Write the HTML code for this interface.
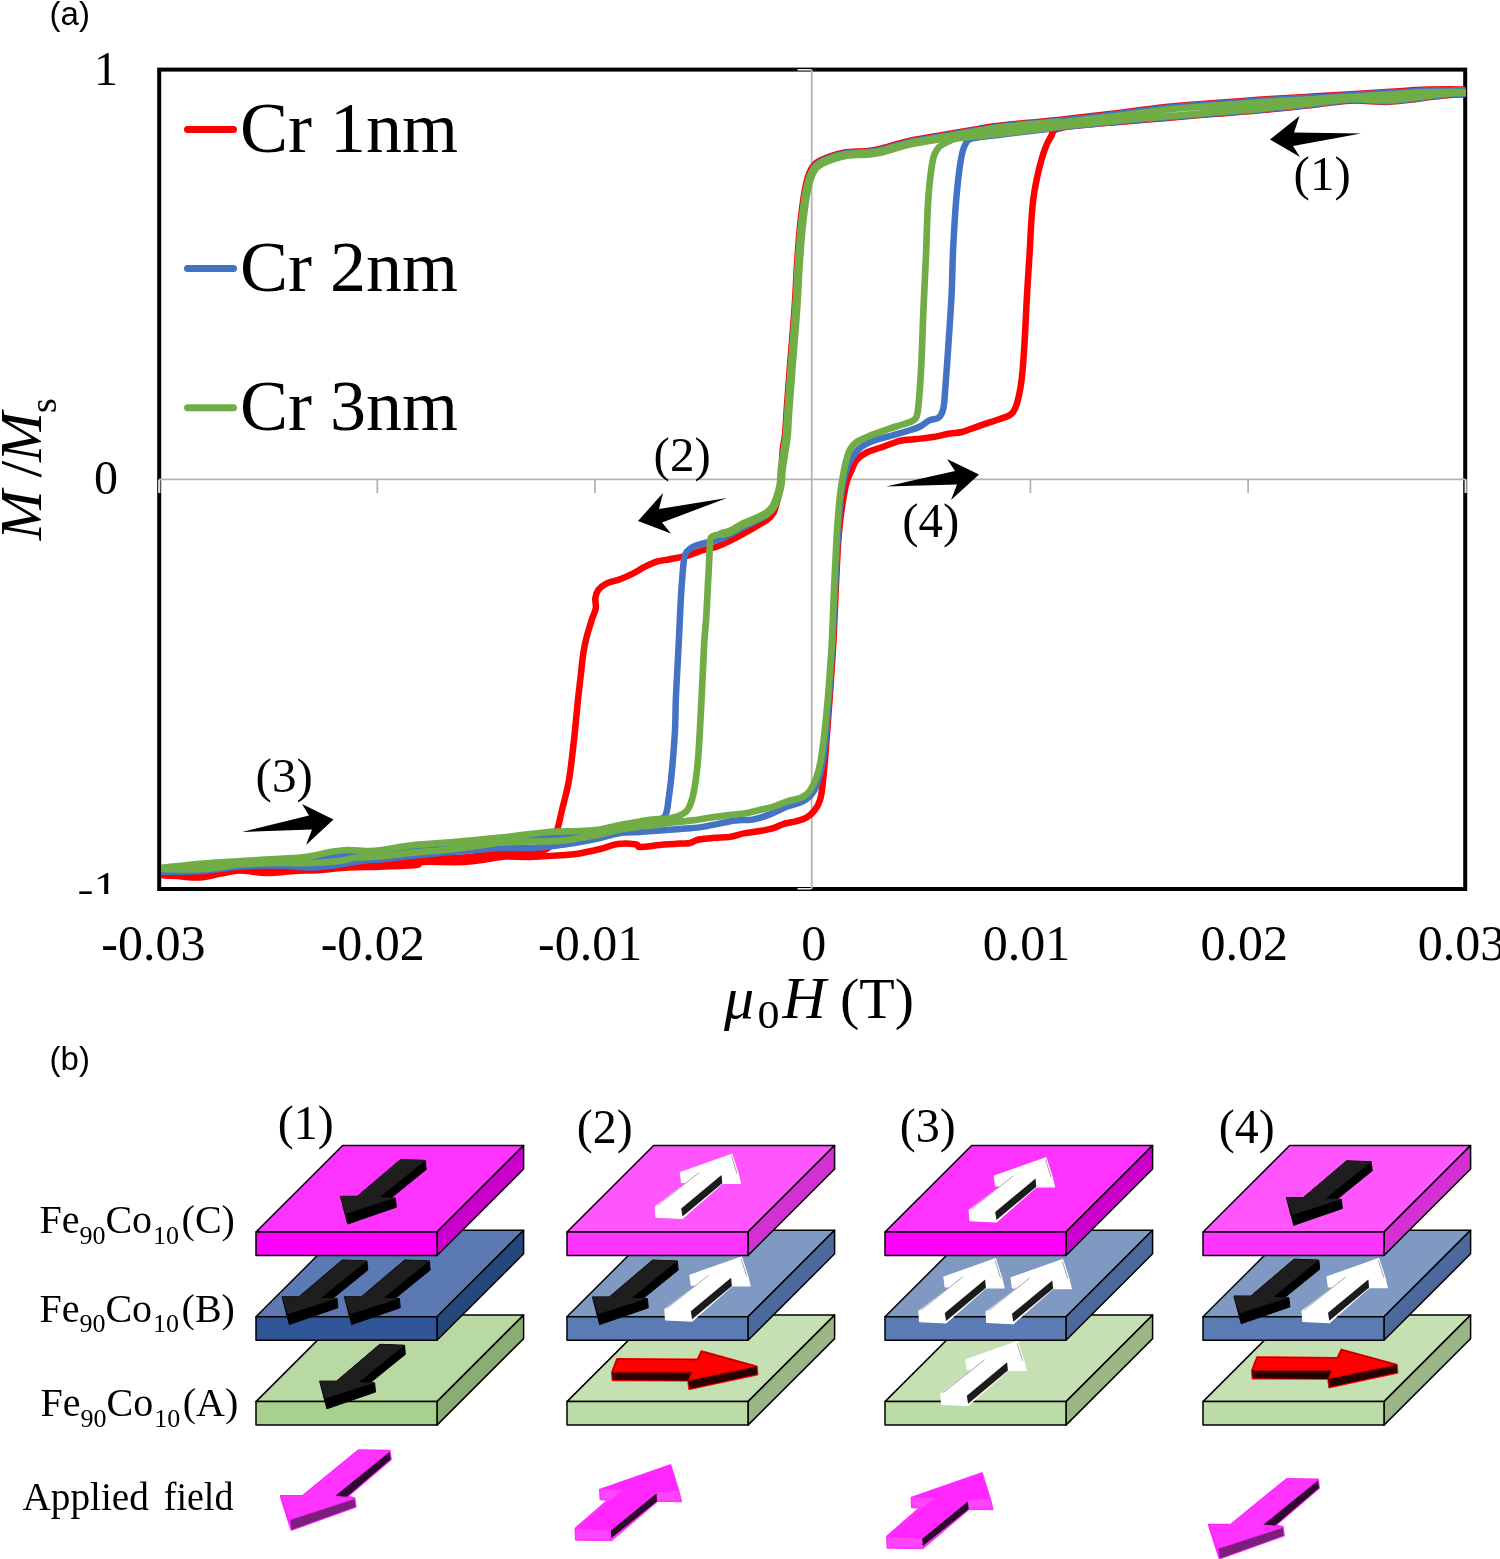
<!DOCTYPE html>
<html><head><meta charset="utf-8"><title>Figure</title>
<style>html,body{margin:0;padding:0;background:#fff}svg{display:block}text{font-family:"Liberation Serif", serif;fill:#000}.sans{font-family:"Liberation Sans", sans-serif}.it{font-style:italic}</style>
</head><body>
<svg width="1500" height="1559" viewBox="0 0 1500 1559">
<rect width="1500" height="1559" fill="#fff"/>
<text class="sans" x="49.6" y="25.4" font-size="33">(a)</text>
<text class="sans" x="49.6" y="1070" font-size="33">(b)</text>
<rect x="159.2" y="69.6" width="1306" height="819.4" fill="none" stroke="#000" stroke-width="4"/>
<g stroke="#b4b4b4" stroke-width="1.8" fill="none">
<path d="M159.2 479.3H1465.2"/>
<path d="M811.7 69.6V889.0"/>
<path d="M159.6 479V493"/>
<path d="M377.3 479V493"/>
<path d="M595 479V493"/>
<path d="M1030.4 479V493"/>
<path d="M1248.1 479V493"/>
<path d="M1465.8 479V493"/>
</g>
<clipPath id="cc"><rect x="161" y="60" width="1306.4" height="835"/></clipPath>
<g fill="none" stroke-linejoin="round" stroke-linecap="butt" clip-path="url(#cc)">
<path stroke="#ff0000" stroke-width="6.5" d="M1464.4 89.4C1458.4 89.4 1441.4 89.2 1428.4 89.6C1415.4 90 1399.2 91.2 1386.4 92C1373.6 92.8 1364.9 93.4 1351.4 94.2C1337.9 95 1320.9 96 1305.4 96.9C1289.9 97.8 1274.1 98.8 1258.4 99.8C1242.7 100.9 1226.9 102 1211.4 103.2C1195.9 104.4 1180.1 105.4 1165.4 106.9C1150.7 108.4 1141.2 110.2 1123.4 112.4C1105.6 114.6 1078.9 117.7 1058.4 119.9C1037.9 122.1 1013.7 123.9 1000.4 125.4C987.1 126.9 988.2 127.3 978.4 128.9C968.6 130.5 952.9 133.2 941.4 135.2C929.9 137.2 919.6 138.6 909.1 140.9C898.6 143.2 886.1 147.5 878.7 149.2C871.2 150.9 870.2 150.6 864.4 151.2C858.6 151.8 851 151.1 843.7 152.6C836.4 154.1 825.8 157.6 820.4 160.4C815 163.2 813.6 164.8 811.1 169.4C808.6 174 806.9 179.5 805.2 188.1C803.4 196.7 801.9 209.2 800.6 220.7C799.3 232.2 798.5 243.2 797.5 257.4C796.5 271.6 795.9 287.9 794.7 305.7C793.5 323.5 791.5 346.6 790.1 364.1C788.8 381.6 787.4 399 786.6 410.7C785.8 422.4 785.8 427.4 785.1 434.1C784.4 440.8 783.2 444.4 782.6 450.7C782 457 781.9 466.1 781.5 472C781.1 477.9 781.2 481.3 780.5 486C779.8 490.7 778.7 495.4 777.5 500C776.3 504.6 775.1 510 773.3 513.3C771.5 516.6 770.6 517.2 766.7 520C762.8 522.8 755.6 526.8 750 530C744.4 533.2 738.8 536.4 733.3 539.2C727.8 542 721.7 544.9 716.7 546.7C711.7 548.5 708.3 548.5 703.3 550C698.3 551.5 692.2 554.3 686.7 555.8C681.2 557.3 675 558.2 670 559.2C665 560.2 660.9 560.5 656.7 561.7C652.5 563 648.9 564.8 645 566.7C641.1 568.6 637.5 571.2 633.3 573.3C629.1 575.4 624.4 577.5 620 579.2C615.6 580.9 610.3 581.5 606.7 583.3C603.1 585.1 600.2 587.5 598.3 590C596.4 592.5 595.7 595.2 595.3 598.3C594.9 601.3 596.4 604.7 595.8 608.3C595.2 611.9 593.2 615.3 591.7 620C590.2 624.7 588.1 631.2 586.7 636.7C585.3 642.2 584.3 646.9 583.3 653.3C582.3 659.7 581.6 667.8 580.8 675C580 682.2 579.1 689.2 578.3 696.7C577.5 704.2 576.7 712.8 576 720C575.3 727.2 575.2 730 574 740C572.8 750 571 768.3 569 780C567 791.7 564 801.7 562 810C560 818.3 559.3 823.7 557 830C554.7 836.3 552.5 844.2 548 848C543.5 851.8 537 851.8 530 852.5C523 853.2 513 851.7 506 852C499 852.3 495 853.6 488 854.5C481 855.4 475 857 464 857.5C453 858 430 857 422 857.5C414 858 423 859.7 416 860.5C409 861.3 391.3 861.8 380 862.2C368.7 862.6 357.8 862.5 348 863C338.2 863.5 330 864.9 321 865.5C312 866.1 303 866 294 866.5C285 867 276 868.6 267 868.5C258 868.4 247.5 866.1 240 866.1C232.5 866.1 228.7 867.6 222 868.8C215.3 869.9 207.5 872.5 200 873C192.5 873.5 183.5 871.9 177 871.5C170.5 871.1 163.7 869.9 161 870.5C158.3 871.1 158.3 874.1 161 875C163.7 875.9 170.5 875.6 177 876C183.5 876.4 192.5 878 200 877.5C207.5 877 215.3 874.4 222 873.3C228.7 872.1 232.5 870.6 240 870.6C247.5 870.6 258 872.9 267 873C276 873.1 285 871.5 294 871C303 870.5 312 870.6 321 870C330 869.4 338.2 868 348 867.5C357.8 867 368.7 867.1 380 866.7C391.3 866.3 409 865.8 416 865C423 864.2 414 862.5 422 862C430 861.5 453 862.5 464 862C475 861.5 481 859.9 488 859C495 858.1 499 856.8 506 856.5C513 856.2 521 857.2 530 857C539 856.8 552.3 855.8 560 855.3C567.7 854.8 569.3 855 576 854C582.7 853 593 850.7 600 849C607 847.3 612 844.8 618 844C624 843.2 632.3 843.9 636 844.4C639.7 844.9 636 846.9 640 847C644 847.1 653.3 845.6 660 845C666.7 844.4 675 843.9 680 843.6C685 843.3 686.9 843.7 690 843C693.1 842.3 694.8 840.4 698.9 839.5C703 838.6 709.2 838.2 714.4 837.8C719.6 837.4 725.1 837.6 730 836.9C734.9 836.2 738.7 834.4 743.9 833.4C749.1 832.4 756.3 831.7 761.2 830.8C766.1 829.9 769.5 829.4 773.3 828.2C777 827.1 780 825 783.7 823.9C787.5 822.8 792 822.3 795.8 821.3C799.5 820.3 803 819.7 806.2 817.8C809.4 815.9 812.6 813 814.9 810C817.2 807 818.8 803.7 820.1 799.7C821.4 795.7 821.7 792.4 822.5 785.8C823.3 779.1 824 771.3 825 759.8C826 748.3 827.3 729.6 828.3 716.6C829.3 703.6 829.9 694.7 830.8 681.9C831.7 669.1 832.2 664.2 833.5 640C834.8 615.8 836.6 562.2 838.6 536.7C840.6 511.2 843.3 497.8 845.5 486.7C847.7 475.6 849.8 474.4 851.7 470C853.6 465.6 854.2 462.9 856.7 460C859.2 457.1 862.3 454.7 866.7 452.5C871.1 450.3 877.8 448.6 883.3 446.7C888.8 444.8 894.4 442.1 900 440.8C905.6 439.5 911.2 439.6 916.7 439C922.2 438.4 927.8 437.9 933.3 437C938.8 436.1 945.2 434.3 950 433.5C954.8 432.7 956.9 433.4 962 432C967.1 430.6 974.5 427.4 980.7 425.3C986.9 423.2 994.2 421 999.3 419.2C1004.3 417.4 1008.1 416.8 1011 414.3C1013.9 411.8 1015 409.6 1016.8 404C1018.5 398.4 1020.2 390.8 1021.5 380.7C1022.8 370.6 1023.6 357.3 1024.5 343.3C1025.4 329.3 1026.1 311.4 1026.9 296.7C1027.7 282 1028.5 271.1 1029.5 255C1030.5 238.9 1031.2 215.8 1033.2 200C1035.2 184.2 1038.4 170.8 1041.3 160.3C1044.2 149.8 1047.2 142.4 1050.7 137C1054.2 131.6 1049.9 130.3 1062.3 127.7C1074.7 125.1 1107.5 123.1 1125 121.5C1142.5 119.9 1152.3 119.2 1167 117.9C1181.7 116.7 1197.5 115.3 1213 114C1228.5 112.7 1244.3 111.7 1260 110.3C1275.7 108.9 1292 107.1 1307 105.5C1322 103.9 1336.8 101.3 1350 100.7C1363.2 100.1 1376 102.1 1386 101.9C1396 101.7 1402.7 100.5 1410 99.7C1417.3 98.9 1423.3 97.9 1430 97.1C1436.7 96.3 1444 95.4 1450 94.9C1456 94.4 1463.3 94.2 1466 94.1"/>
<path stroke="#4472c4" stroke-width="6.5" d="M1465.5 90.2C1459.5 90.2 1442.5 90 1429.5 90.4C1416.5 90.8 1400.3 92 1387.5 92.8C1374.7 93.6 1366 94.2 1352.5 95C1339 95.8 1322 96.8 1306.5 97.7C1291 98.6 1275.2 99.6 1259.5 100.6C1243.8 101.7 1228 102.8 1212.5 104C1197 105.2 1181.2 106.2 1166.5 107.7C1151.8 109.2 1142.3 111 1124.5 113.2C1106.7 115.4 1080 118.5 1059.5 120.7C1039 122.9 1014.8 124.7 1001.5 126.2C988.2 127.7 989.3 128.1 979.5 129.7C969.7 131.3 954 134 942.5 136C931 138 920.7 139.4 910.2 141.7C899.8 144 887.2 148.3 879.8 150C872.3 151.7 871.3 151.4 865.5 152C859.7 152.6 852.1 151.9 844.8 153.4C837.5 154.9 826.9 158.4 821.5 161.2C816.1 164 814.7 165.6 812.2 170.2C809.7 174.8 808 180.3 806.3 188.9C804.5 197.4 803 209.9 801.7 221.5C800.4 233.1 799.6 244 798.6 258.2C797.6 272.4 797 288.7 795.8 306.5C794.6 324.3 792.6 347.4 791.2 364.9C789.9 382.4 788.5 399.8 787.7 411.5C786.9 423.2 786.9 428.2 786.2 434.9C785.5 441.6 784.5 445.6 783.7 451.5C783 457.4 782.2 464.7 781.7 470C781.2 475.3 781.5 478.7 780.8 483.3C780.1 487.9 778.8 493.4 777.5 497.5C776.2 501.6 775.1 505.1 773.3 508C771.5 510.9 769.8 512.8 766.7 515C763.7 517.2 759.2 519.3 755 521.5C750.8 523.7 745.9 525.8 741.7 528C737.5 530.2 733.6 532.6 730 534.5C726.4 536.4 724.5 537.7 720 539.2C715.5 540.7 707.8 542 703.3 543.3C698.8 544.5 696.1 545.3 693.3 546.7C690.5 548.1 688.2 549.8 686.7 551.7C685.2 553.6 684.9 554.4 684.2 558.3C683.5 562.2 683.1 568 682.5 575C681.9 582 681.3 590.3 680.8 600C680.2 609.7 679.8 622.2 679.2 633.3C678.7 644.4 678.1 655.6 677.5 666.7C676.9 677.8 676.2 689.5 675.8 700C675.4 710.5 675.6 718.3 675 730C674.4 741.7 673 759 672 770C671 781 670.2 788.3 669 796C667.8 803.7 667.8 811.8 665 816C662.2 820.2 656.2 819.4 652 821C647.8 822.6 645.3 824.2 640 825.5C634.7 826.8 626.7 827.7 620 829C613.3 830.3 606.7 832.5 600 833.5C593.3 834.5 587.7 834.6 580 835C572.3 835.4 562.3 835.2 554 835.7C545.7 836.2 539 837.1 530 838.1C521 839.1 510 840.6 500 841.7C490 842.8 480 843.8 470 844.7C460 845.6 450 846.3 440 847.1C430 847.9 420 848.3 410 849.5C400 850.7 387.3 853.4 380 854.3C372.7 855.2 371.3 855 366 855C360.7 855 354 853.8 348 854C342 854.2 337.5 854.8 330 856C322.5 857.2 315 860 303 861.3C291 862.6 274.5 863 258 864C241.5 865 220.2 866.2 204 867.5C187.8 868.8 168.2 871.2 161 872C153.8 872.8 153.8 872.2 161 872C168.2 871.8 190.8 871.9 204 871C217.2 870.1 228 867.4 240 866.5C252 865.6 264 865.3 276 865.5C288 865.7 301.5 867.7 312 867.5C322.5 867.3 330 865.7 339 864.5C348 863.3 359.2 861 366 860.2C372.8 859.4 372.7 860.2 380 859.5C387.3 858.8 400 857 410 855.9C420 854.8 430 853.8 440 852.9C450 852 460 851.3 470 850.5C480 849.7 490 848.5 500 848.1C510 847.7 520 848.6 530 848.1C540 847.6 551.7 846.1 560 845.1C568.3 844.1 573.3 843.2 580 842C586.7 840.8 593.3 839.5 600 838C606.7 836.5 613.3 834 620 833C626.7 832 633.3 832.4 640 832C646.7 831.6 653.3 831 660 830.5C666.7 830 673.3 829.5 680 829C686.7 828.5 693.7 828.2 700 827.4C706.3 826.5 712 825.1 717.9 823.9C723.8 822.7 729.4 821.1 735.2 820.4C741 819.7 746.7 820.6 752.5 819.6C758.3 818.6 764.1 816.6 769.9 814.4C775.7 812.2 781.4 808.9 787.2 806.6C793 804.3 799.9 803.4 804.5 800.5C809.1 797.6 812.1 794.6 814.9 789.3C817.7 784 819.5 776.3 821.3 768.5C823 760.7 824.2 753.9 825.4 742.5C826.6 731.1 827.7 712.9 828.7 700C829.7 687.1 830.5 675 831.2 665C831.9 655 832 653 832.7 640C833.4 627 834.4 604.2 835.2 587C836 569.8 836.9 551 837.7 537C838.6 523 839.4 511.9 840.3 503C841.2 494.1 841.8 489.3 843 483.3C844.2 477.3 846 471.2 847.5 467C849 462.8 849.6 461.5 851.7 458.3C853.8 455.1 856.4 450.9 860 448C863.6 445.1 868.3 442.8 873.3 440.8C878.2 438.8 883.5 438 889.7 436.2C895.9 434.4 905.7 431.6 910.7 430C915.8 428.4 916.9 428.1 920 426.5C923.1 424.9 926.2 421.9 929.3 420.4C932.4 418.9 936.4 419.6 938.7 417.6C941 415.7 942.2 413.3 943.3 408.7C944.4 404.1 944.3 400.9 945.2 390C946.1 379.1 947.5 358.9 948.5 343.3C949.5 327.8 950.7 312.2 951.5 296.7C952.3 281.1 952.3 266.1 953.1 250C953.9 233.9 954.9 214.9 956.2 200C957.5 185.1 959.2 169.6 960.8 160.3C962.3 151 963.4 147.7 965.5 144C967.6 140.3 967.6 139.8 973.7 138.2C979.8 136.6 987.6 136.3 1002 134.5C1016.4 132.7 1039.5 129.8 1060 127.5C1080.5 125.2 1107.2 122.7 1125 121C1142.8 119.3 1152.3 118.7 1167 117.4C1181.7 116.2 1197.5 114.8 1213 113.5C1228.5 112.2 1244.3 111.2 1260 109.8C1275.7 108.4 1292 106.6 1307 105C1322 103.4 1336.8 100.8 1350 100.2C1363.2 99.6 1376 101.6 1386 101.4C1396 101.2 1402.7 100 1410 99.2C1417.3 98.4 1423.3 97.4 1430 96.6C1436.7 95.8 1444 94.9 1450 94.4C1456 93.9 1463.3 93.7 1466 93.6"/>
<path stroke="#70ad47" stroke-width="6.7" d="M1466 92C1460 92 1443 91.8 1430 92.2C1417 92.6 1400.8 93.8 1388 94.6C1375.2 95.4 1366.5 96 1353 96.8C1339.5 97.6 1322.5 98.6 1307 99.5C1291.5 100.4 1275.7 101.4 1260 102.4C1244.3 103.5 1228.5 104.6 1213 105.8C1197.5 107 1181.7 108 1167 109.5C1152.3 111 1142.8 112.8 1125 115C1107.2 117.2 1080.5 120.3 1060 122.5C1039.5 124.7 1015.3 126.5 1002 128C988.7 129.5 989.8 129.9 980 131.5C970.2 133.1 954.5 135.8 943 137.8C931.5 139.8 921.2 141.2 910.7 143.5C900.2 145.8 887.8 150.1 880.3 151.8C872.8 153.5 871.8 153.2 866 153.8C860.2 154.4 852.6 153.7 845.3 155.2C838 156.7 827.4 160.2 822 163C816.6 165.8 815.2 167.4 812.7 172C810.2 176.6 808.5 182.1 806.8 190.7C805 199.2 803.5 211.8 802.2 223.3C800.9 234.9 800.1 245.8 799.1 260C798.1 274.2 797.5 290.5 796.3 308.3C795.1 326.1 793.1 349.2 791.7 366.7C790.4 384.2 789 401.6 788.2 413.3C787.4 425 787.4 430 786.7 436.7C786 443.4 785 447.8 784.2 453.3C783.4 458.9 782.3 465 781.7 470C781.1 475 781.5 478.9 780.8 483.3C780.1 487.8 778.8 492.8 777.5 496.7C776.2 500.6 775.1 503.9 773.3 506.7C771.5 509.5 769.8 511.2 766.7 513.3C763.7 515.4 759.2 517.2 755 519.2C750.8 521.2 745.9 522.9 741.7 525C737.5 527.1 733.6 530.2 730 531.7C726.4 533.2 723 533.4 720 534.2C717 535 713.4 535.6 711.7 536.7C710 537.8 710.3 538.8 710 541C709.7 543.2 710 543 709.7 550C709.4 557 708.6 572.2 708 583.3C707.4 594.4 706.9 607.2 706.3 616.7C705.7 626.2 704.9 632 704.4 640C703.9 648 703.7 654.7 703.2 664.6C702.7 674.5 702.1 687.8 701.5 699.3C700.9 710.8 700.3 723.8 699.7 733.9C699.1 744 698.7 751.7 698 759.8C697.3 767.9 696.4 775.8 695.4 782.4C694.4 789 693.3 795 691.9 799.7C690.5 804.5 689 808.2 686.7 810.9C684.4 813.6 681.6 814.8 678.1 816.1C674.6 817.4 670.4 818.1 666 818.7C661.6 819.3 656.3 819.1 652 819.6C647.7 820.1 645.3 820.6 640 821.5C634.7 822.4 626.7 823.7 620 825C613.3 826.3 606.7 828.5 600 829.5C593.3 830.5 587.7 830.6 580 831C572.3 831.4 562.3 831.2 554 831.7C545.7 832.2 539 833.1 530 834.1C521 835.1 510 836.6 500 837.7C490 838.8 480 839.8 470 840.7C460 841.6 450 842.3 440 843.1C430 843.9 420 844.3 410 845.5C400 846.7 387.3 849.4 380 850.3C372.7 851.2 371.3 851 366 851C360.7 851 354 849.8 348 850C342 850.2 337.5 850.8 330 852C322.5 853.2 315 856 303 857.3C291 858.6 274.5 859 258 860C241.5 861 220.2 862.2 204 863.5C187.8 864.8 168.2 867.1 161 868C153.8 868.9 153.8 868.8 161 869C168.2 869.2 190.8 869.8 204 869C217.2 868.2 228 865.5 240 864.5C252 863.5 264 863.2 276 863C288 862.8 301.5 863.3 312 863C322.5 862.7 331.5 861.9 339 861C346.5 860.1 350.2 858.2 357 857.5C363.8 856.8 371.2 857.3 380 856.5C388.8 855.7 400 853.9 410 852.9C420 851.9 430 851.5 440 850.5C450 849.5 460 848.2 470 846.9C480 845.6 490 843.6 500 842.7C510 841.8 520 841.8 530 841.5C540 841.2 551.7 841.5 560 840.9C568.3 840.3 573.3 839.1 580 838C586.7 836.9 593.3 835.9 600 834.5C606.7 833.1 613.3 830.8 620 829.5C626.7 828.2 633.8 827.3 640 826.5C646.2 825.7 651.5 825.5 657.3 824.8C663.1 824.1 668.8 822.9 674.6 822.2C680.4 821.5 686.1 821.1 691.9 820.4C697.7 819.7 703.5 818.6 709.3 817.8C715.1 816.9 720.8 816 726.6 815.3C732.4 814.6 738.4 814.4 743.9 813.5C749.4 812.6 754.6 811.1 759.5 810C764.4 808.9 768.7 808 773.3 806.6C777.9 805.2 782.6 802.9 787.2 801.4C791.8 799.9 797.2 799.6 801 797.9C804.8 796.2 807.1 794.5 809.7 791C812.3 787.5 814.7 782.4 816.6 777.2C818.5 772 819.6 767 820.9 759.8C822.2 752.6 823.2 744 824.4 733.9C825.5 723.8 826.8 710.8 827.8 699.3C828.8 687.8 829.7 674.5 830.4 664.6C831.1 654.7 831.4 653 832 640C832.6 627 833.4 603.9 834.2 586.7C835 569.5 835.9 550.6 836.7 536.7C837.5 522.8 838.4 512.2 839.2 503.3C840 494.4 840.7 490 841.7 483.3C842.8 476.6 844.1 468.9 845.5 463.3C846.9 457.7 848.1 453.1 850 449.5C851.9 445.9 853.7 444.2 856.7 442C859.8 439.8 863.9 438.4 868.3 436.5C872.7 434.6 878.6 432.5 883.3 430.8C888 429.1 892.1 427.7 896.7 426.2C901.3 424.7 907.4 423.4 910.7 421.8C914 420.2 915.1 420.1 916.5 416.7C917.9 413.3 918 410 918.8 401.7C919.6 393.4 920.4 382.3 921.2 366.7C922 351.1 922.7 326.9 923.5 308.3C924.3 289.7 925.2 273.1 926 255C926.8 236.9 927.1 215.8 928.2 200C929.3 184.2 931 169.1 932.8 160.3C934.5 151.6 936.2 150.6 938.7 147.5C941.2 144.4 944.5 143.3 948 141.7C951.5 140.1 951 139.4 960 138C969 136.6 985.3 135.4 1002 133.5C1018.7 131.6 1039.5 128.8 1060 126.5C1080.5 124.2 1107.2 121.7 1125 120C1142.8 118.3 1152.3 117.7 1167 116.4C1181.7 115.2 1197.5 113.8 1213 112.5C1228.5 111.2 1244.3 110.2 1260 108.8C1275.7 107.4 1292 105.6 1307 104C1322 102.4 1336.8 99.8 1350 99.2C1363.2 98.6 1376 100.6 1386 100.4C1396 100.2 1402.7 99 1410 98.2C1417.3 97.4 1423.3 96.4 1430 95.6C1436.7 94.8 1444 93.9 1450 93.4C1456 92.9 1463.3 92.7 1466 92.6"/>
<path stroke="#70ad47" stroke-width="8.4" d="M1060 122.5C1050.3 123.4 1015.3 126.5 1002 128C988.7 129.5 989.8 129.9 980 131.5C970.2 133.1 954.5 135.8 943 137.8C931.5 139.8 921.2 141.2 910.7 143.5C900.2 145.8 887.8 150.1 880.3 151.8C872.8 153.5 871.8 153.2 866 153.8C860.2 154.4 852.6 153.7 845.3 155.2C838 156.7 827.4 160.2 822 163C816.6 165.8 815.2 167.4 812.7 172C810.2 176.6 808.5 182.1 806.8 190.7C805 199.2 803.5 211.8 802.2 223.3C800.9 234.9 800.1 245.8 799.1 260C798.1 274.2 797.5 290.5 796.3 308.3C795.1 326.1 793.1 349.2 791.7 366.7C790.4 384.2 789 401.6 788.2 413.3C787.4 425 787.4 430 786.7 436.7C786 443.4 785 447.8 784.2 453.3C783.4 458.9 782.3 465 781.7 470C781.1 475 781.5 478.9 780.8 483.3C780.1 487.8 778.8 492.8 777.5 496.7C776.2 500.6 775.1 503.9 773.3 506.7C771.5 509.5 769.8 511.2 766.7 513.3C763.7 515.4 759.2 517.2 755 519.2C750.8 521.2 745.9 522.9 741.7 525C737.5 527.1 733.6 530.2 730 531.7C726.4 533.2 721.7 533.8 720 534.2"/>
</g>
<g stroke="#e6e6e6" stroke-width="1.6" fill="none">
<path d="M797.5 69.8H811"/><path d="M797.5 888.8H811"/><path d="M159 480V493"/><path d="M1465.4 480V493"/>
</g>
<path d="M187.5 129.4H233.5" stroke="#ff0000" stroke-width="7" stroke-linecap="round"/>
<text x="240" y="152" font-size="72">Cr 1nm</text>
<path d="M187.5 268.6H233.5" stroke="#4472c4" stroke-width="7" stroke-linecap="round"/>
<text x="240" y="291.2" font-size="72">Cr 2nm</text>
<path d="M187.5 407.8H233.5" stroke="#70ad47" stroke-width="7" stroke-linecap="round"/>
<text x="240" y="430.4" font-size="72">Cr 3nm</text>
<text x="94" y="85" font-size="48">1</text>
<text x="94" y="494" font-size="48">0</text>
<clipPath id="cm1"><rect x="60" y="860" width="90" height="34"/></clipPath>
<text x="77.4" y="904.6" font-size="48" clip-path="url(#cm1)">-1</text>
<text x="101.3" y="960" font-size="50">-0.03</text>
<text x="320.7" y="960" font-size="50">-0.02</text>
<text x="538" y="960" font-size="50">-0.01</text>
<text x="801.3" y="960" font-size="50">0</text>
<text x="982.8" y="960" font-size="50">0.01</text>
<text x="1200.5" y="960" font-size="50">0.02</text>
<text x="1417.8" y="960" font-size="50">0.03</text>
<text class="it" x="724" y="1018" font-size="60">μ</text>
<text transform="translate(757.6 1028) scale(1.1 1)" font-size="40">0</text>
<text class="it" x="782.6" y="1018" font-size="60">H</text>
<text x="840" y="1018" font-size="58">(T)</text>
<text class="it" transform="translate(41 540.2) rotate(-90)" font-size="60">M</text>
<text transform="translate(41 477.6) rotate(-90)" font-size="60">/</text>
<text class="it" transform="translate(41 462) rotate(-90)" font-size="60">M</text>
<text transform="translate(55.5 413) rotate(-90)" font-size="38">s</text>
<polygon fill="#000" points="1270,139.5 1299.5,116 1294,132.5 1361,133.5 1293,146 1300,157"/>
<polygon fill="#000" points="638,521 663,493 659,509 727,498 662,522.5 671,533.5"/>
<polygon fill="#000" points="333.5,819.5 302,804 309,815.5 242,832 312,829.5 306,845"/>
<polygon fill="#000" points="979,474.5 947,459 955,471 886,486.5 957,484.5 951,500"/>
<text x="1293.6" y="190.3" font-size="49">(1)</text>
<text x="653.6" y="471" font-size="49">(2)</text>
<text x="255.6" y="791.7" font-size="49">(3)</text>
<text x="902.2" y="537" font-size="49">(4)</text>
<g stroke="#000" stroke-width="1.5" stroke-linejoin="round">
<polygon fill="#b8daa2" points="342.6,1315.1 523.6,1315.1 437,1401.6 256,1401.6"/>
<polygon fill="#89ad73" points="437,1401.6 523.6,1315.1 523.6,1338.6 437,1425.1"/>
<polygon fill="#a9d18e" points="256,1401.6 437,1401.6 437,1425.1 256,1425.1"/>
</g>
<polygon fill="#000" stroke="#000" stroke-width="1" stroke-linejoin="round" points="379.8,1344.3 404.5,1345.2 405.4,1354.3 370.2,1382.8 374.6,1382.8 375.5,1392 326.9,1408.8 319.6,1381.1 336.5,1381.1"/>
<polygon fill="#1e1e1e" points="379.8,1344.3 404.5,1345.2 359,1382 374.6,1382.8 325.2,1398.5 319.6,1381.1 336.5,1381.1"/>
<g stroke="#000" stroke-width="1.5" stroke-linejoin="round">
<polygon fill="#5b7ab3" points="342.6,1230.3 523.6,1230.3 437,1316.8 256,1316.8"/>
<polygon fill="#264779" points="437,1316.8 523.6,1230.3 523.6,1253.8 437,1340.3"/>
<polygon fill="#2f5597" points="256,1316.8 437,1316.8 437,1340.3 256,1340.3"/>
</g>
<polygon fill="#000" stroke="#000" stroke-width="1" stroke-linejoin="round" points="342.2,1260 366.9,1260.9 367.8,1270 332.6,1298.5 337,1298.5 337.9,1307.7 289.3,1324.5 282,1296.8 298.9,1296.8"/>
<polygon fill="#1e1e1e" points="342.2,1260 366.9,1260.9 321.4,1297.7 337,1298.5 287.6,1314.2 282,1296.8 298.9,1296.8"/>
<polygon fill="#000" stroke="#000" stroke-width="1" stroke-linejoin="round" points="404.6,1260 429.3,1260.9 430.2,1270 395,1298.5 399.4,1298.5 400.3,1307.7 351.7,1324.5 344.4,1296.8 361.3,1296.8"/>
<polygon fill="#1e1e1e" points="404.6,1260 429.3,1260.9 383.8,1297.7 399.4,1298.5 350,1314.2 344.4,1296.8 361.3,1296.8"/>
<g stroke="#000" stroke-width="1.5" stroke-linejoin="round">
<polygon fill="#ff33ff" points="342.6,1145.5 523.6,1145.5 437,1232 256,1232"/>
<polygon fill="#cc00cc" points="437,1232 523.6,1145.5 523.6,1169 437,1255.5"/>
<polygon fill="#ff00ff" points="256,1232 437,1232 437,1255.5 256,1255.5"/>
</g>
<polygon fill="#000" stroke="#000" stroke-width="1" stroke-linejoin="round" points="400.6,1159.5 425.3,1160.4 426.2,1169.5 391,1198 395.4,1198 396.3,1207.2 347.7,1224 340.4,1196.3 357.3,1196.3"/>
<polygon fill="#1e1e1e" points="400.6,1159.5 425.3,1160.4 379.8,1197.2 395.4,1198 346,1213.7 340.4,1196.3 357.3,1196.3"/>
<g stroke="#000" stroke-width="1.5" stroke-linejoin="round">
<polygon fill="#c5e0b3" points="653.6,1315.1 834.6,1315.1 748,1401.6 567,1401.6"/>
<polygon fill="#9ab686" points="748,1401.6 834.6,1315.1 834.6,1338.6 748,1425.1"/>
<polygon fill="#bbdca7" points="567,1401.6 748,1401.6 748,1425.1 567,1425.1"/>
</g>
<polygon fill="#ff0000" stroke="#ff0000" stroke-width="2.4" stroke-linejoin="round" points="617.2,1359.1 697.7,1359.8 701.5,1351.5 756.6,1366.7 757.2,1374.3 689.4,1388.9 688.4,1380.2 612.8,1380 612.2,1372.4"/>
<polygon fill="#2a0000" points="612.2,1372.4 691.3,1372.4 688.2,1380.7 612.8,1380"/>
<polygon fill="#2a0000" points="688.2,1380.7 756.6,1366.7 757.2,1374.3 689.4,1388.9"/>
<polygon fill="#ff0000" stroke="#7a0000" stroke-width="0.7" stroke-linejoin="round" points="617.2,1359.1 697.7,1359.8 701.5,1351.5 756.6,1366.7 688.2,1380.7 691.3,1372.4 612.2,1372.4"/>
<g stroke="#000" stroke-width="1.5" stroke-linejoin="round">
<polygon fill="#7f99c3" points="653.6,1230.3 834.6,1230.3 748,1316.8 567,1316.8"/>
<polygon fill="#4b6a9b" points="748,1316.8 834.6,1230.3 834.6,1253.8 748,1340.3"/>
<polygon fill="#5a7bb3" points="567,1316.8 748,1316.8 748,1340.3 567,1340.3"/>
</g>
<polygon fill="#000" stroke="#000" stroke-width="1" stroke-linejoin="round" points="652.6,1260.1 677.3,1261 678.2,1270.1 643,1298.6 647.4,1298.6 648.3,1307.8 599.7,1324.6 592.4,1296.9 609.3,1296.9"/>
<polygon fill="#1e1e1e" points="652.6,1260.1 677.3,1261 631.8,1297.8 647.4,1298.6 598,1314.3 592.4,1296.9 609.3,1296.9"/>
<polygon fill="#fff" stroke="#fff" stroke-width="1.2" stroke-linejoin="round" points="664.8,1309.4 696.8,1285.2 691.2,1285.2 689.9,1275.2 741.5,1257 747.6,1275.7 750.1,1286 731.9,1286 692.1,1321.1 665.6,1319.8"/>
<polygon fill="#1c1c1c" points="690.8,1311.2 731.1,1277.8 731.9,1286 692.1,1319.2"/>
<path d="M667.1 1308.2L708.6 1275.3M741.1 1258.7L746.6 1276.2" stroke="#9a9a9a" stroke-width="0.9" fill="none"/>
<g stroke="#000" stroke-width="1.5" stroke-linejoin="round">
<polygon fill="#ff55ff" points="653.6,1145.5 834.6,1145.5 748,1232 567,1232"/>
<polygon fill="#d42fd4" points="748,1232 834.6,1145.5 834.6,1169 748,1255.5"/>
<polygon fill="#ff33ff" points="567,1232 748,1232 748,1255.5 567,1255.5"/>
</g>
<polygon fill="#fff" stroke="#fff" stroke-width="1.2" stroke-linejoin="round" points="655.2,1206.7 687.2,1182.5 681.6,1182.5 680.3,1172.5 731.9,1154.3 738,1173 740.5,1183.3 722.3,1183.3 682.5,1218.4 656,1217.1"/>
<polygon fill="#1c1c1c" points="681.2,1208.5 721.5,1175.1 722.3,1183.3 682.5,1216.5"/>
<path d="M657.5 1205.5L699 1172.6M731.5 1156L737 1173.5" stroke="#9a9a9a" stroke-width="0.9" fill="none"/>
<g stroke="#000" stroke-width="1.5" stroke-linejoin="round">
<polygon fill="#c5e0b3" points="971.6,1315.1 1152.6,1315.1 1066,1401.6 885,1401.6"/>
<polygon fill="#9ab686" points="1066,1401.6 1152.6,1315.1 1152.6,1338.6 1066,1425.1"/>
<polygon fill="#bbdca7" points="885,1401.6 1066,1401.6 1066,1425.1 885,1425.1"/>
</g>
<polygon fill="#fff" stroke="#fff" stroke-width="1.2" stroke-linejoin="round" points="940.8,1393.9 972.8,1369.7 967.2,1369.7 965.9,1359.7 1017.5,1341.5 1023.6,1360.2 1026.1,1370.5 1007.9,1370.5 968.1,1405.6 941.6,1404.3"/>
<polygon fill="#1c1c1c" points="966.8,1395.7 1007.1,1362.3 1007.9,1370.5 968.1,1403.7"/>
<path d="M943.1 1392.7L984.6 1359.8M1017.1 1343.2L1022.6 1360.7" stroke="#9a9a9a" stroke-width="0.9" fill="none"/>
<g stroke="#000" stroke-width="1.5" stroke-linejoin="round">
<polygon fill="#7f99c3" points="971.6,1230.3 1152.6,1230.3 1066,1316.8 885,1316.8"/>
<polygon fill="#4b6a9b" points="1066,1316.8 1152.6,1230.3 1152.6,1253.8 1066,1340.3"/>
<polygon fill="#5a7bb3" points="885,1316.8 1066,1316.8 1066,1340.3 885,1340.3"/>
</g>
<polygon fill="#fff" stroke="#fff" stroke-width="1.2" stroke-linejoin="round" points="918.8,1311.2 950.8,1287 945.2,1287 943.9,1277 995.5,1258.8 1001.6,1277.5 1004.1,1287.8 985.9,1287.8 946.1,1322.9 919.6,1321.6"/>
<polygon fill="#1c1c1c" points="944.8,1313 985.1,1279.6 985.9,1287.8 946.1,1321"/>
<path d="M921.1 1310L962.6 1277.1M995.1 1260.5L1000.6 1278" stroke="#9a9a9a" stroke-width="0.9" fill="none"/>
<polygon fill="#fff" stroke="#fff" stroke-width="1.2" stroke-linejoin="round" points="986,1312 1018,1287.8 1012.4,1287.8 1011.1,1277.8 1062.7,1259.6 1068.8,1278.3 1071.3,1288.6 1053.1,1288.6 1013.3,1323.7 986.8,1322.4"/>
<polygon fill="#1c1c1c" points="1012,1313.8 1052.3,1280.4 1053.1,1288.6 1013.3,1321.8"/>
<path d="M988.3 1310.8L1029.8 1277.9M1062.3 1261.3L1067.8 1278.8" stroke="#9a9a9a" stroke-width="0.9" fill="none"/>
<g stroke="#000" stroke-width="1.5" stroke-linejoin="round">
<polygon fill="#ff33ff" points="971.6,1145.5 1152.6,1145.5 1066,1232 885,1232"/>
<polygon fill="#cc00cc" points="1066,1232 1152.6,1145.5 1152.6,1169 1066,1255.5"/>
<polygon fill="#ff00ff" points="885,1232 1066,1232 1066,1255.5 885,1255.5"/>
</g>
<polygon fill="#fff" stroke="#fff" stroke-width="1.2" stroke-linejoin="round" points="969.2,1210.2 1001.2,1186 995.6,1186 994.3,1176 1045.9,1157.8 1052,1176.5 1054.5,1186.8 1036.3,1186.8 996.5,1221.9 970,1220.6"/>
<polygon fill="#1c1c1c" points="995.2,1212 1035.5,1178.6 1036.3,1186.8 996.5,1220"/>
<path d="M971.5 1209L1013 1176.1M1045.5 1159.5L1051 1177" stroke="#9a9a9a" stroke-width="0.9" fill="none"/>
<g stroke="#000" stroke-width="1.5" stroke-linejoin="round">
<polygon fill="#c5e0b3" points="1289.6,1315.1 1470.6,1315.1 1384,1401.6 1203,1401.6"/>
<polygon fill="#9ab686" points="1384,1401.6 1470.6,1315.1 1470.6,1338.6 1384,1425.1"/>
<polygon fill="#bbdca7" points="1203,1401.6 1384,1401.6 1384,1425.1 1203,1425.1"/>
</g>
<polygon fill="#ff0000" stroke="#ff0000" stroke-width="2.4" stroke-linejoin="round" points="1257.2,1357.4 1337.7,1358.1 1341.5,1349.8 1396.6,1365 1397.2,1372.6 1329.4,1387.2 1328.4,1378.5 1252.8,1378.3 1252.2,1370.7"/>
<polygon fill="#2a0000" points="1252.2,1370.7 1331.3,1370.7 1328.2,1379 1252.8,1378.3"/>
<polygon fill="#2a0000" points="1328.2,1379 1396.6,1365 1397.2,1372.6 1329.4,1387.2"/>
<polygon fill="#ff0000" stroke="#7a0000" stroke-width="0.7" stroke-linejoin="round" points="1257.2,1357.4 1337.7,1358.1 1341.5,1349.8 1396.6,1365 1328.2,1379 1331.3,1370.7 1252.2,1370.7"/>
<g stroke="#000" stroke-width="1.5" stroke-linejoin="round">
<polygon fill="#7f99c3" points="1289.6,1230.3 1470.6,1230.3 1384,1316.8 1203,1316.8"/>
<polygon fill="#4b6a9b" points="1384,1316.8 1470.6,1230.3 1470.6,1253.8 1384,1340.3"/>
<polygon fill="#5a7bb3" points="1203,1316.8 1384,1316.8 1384,1340.3 1203,1340.3"/>
</g>
<polygon fill="#000" stroke="#000" stroke-width="1" stroke-linejoin="round" points="1294.1,1259.2 1318.8,1260.1 1319.7,1269.2 1284.5,1297.7 1288.9,1297.7 1289.8,1306.9 1241.2,1323.7 1233.9,1296 1250.8,1296"/>
<polygon fill="#1e1e1e" points="1294.1,1259.2 1318.8,1260.1 1273.3,1296.9 1288.9,1297.7 1239.5,1313.4 1233.9,1296 1250.8,1296"/>
<polygon fill="#fff" stroke="#fff" stroke-width="1.2" stroke-linejoin="round" points="1302,1311 1334,1286.8 1328.4,1286.8 1327.1,1276.8 1378.7,1258.6 1384.8,1277.3 1387.3,1287.6 1369.1,1287.6 1329.3,1322.7 1302.8,1321.4"/>
<polygon fill="#1c1c1c" points="1328,1312.8 1368.3,1279.4 1369.1,1287.6 1329.3,1320.8"/>
<path d="M1304.3 1309.8L1345.8 1276.9M1378.3 1260.3L1383.8 1277.8" stroke="#9a9a9a" stroke-width="0.9" fill="none"/>
<g stroke="#000" stroke-width="1.5" stroke-linejoin="round">
<polygon fill="#ff55ff" points="1289.6,1145.5 1470.6,1145.5 1384,1232 1203,1232"/>
<polygon fill="#d42fd4" points="1384,1232 1470.6,1145.5 1470.6,1169 1384,1255.5"/>
<polygon fill="#ff33ff" points="1203,1232 1384,1232 1384,1255.5 1203,1255.5"/>
</g>
<polygon fill="#000" stroke="#000" stroke-width="1" stroke-linejoin="round" points="1346.6,1160.8 1371.3,1161.7 1372.2,1170.8 1337,1199.3 1341.4,1199.3 1342.3,1208.5 1293.7,1225.3 1286.4,1197.6 1303.3,1197.6"/>
<polygon fill="#1e1e1e" points="1346.6,1160.8 1371.3,1161.7 1325.8,1198.5 1341.4,1199.3 1292,1215 1286.4,1197.6 1303.3,1197.6"/>
<polygon fill="#ff22ff" stroke="#ff22ff" stroke-width="2.2" stroke-linejoin="round" points="358.7,1450.3 389.6,1450.8 390.7,1459.3 346.9,1496.7 354.4,1498.3 355.5,1506.8 291.5,1529.7 280.8,1496.1 302.7,1496.1"/>
<polygon fill="#2b0a2b" points="389.6,1452 390.7,1459.3 346.9,1496.7 335.5,1495.8"/>
<polygon fill="#7a1f7a" points="354.4,1499.3 355.5,1506.8 291.5,1529.7 290.4,1520.1"/>
<polygon fill="#ff33ff" points="358.7,1450.3 389.6,1450.8 332.5,1497.2 354.4,1498.3 290.4,1519.1 280.8,1496.1 302.7,1496.1"/>
<polygon fill="#ff44ff" stroke="#ff33ff" stroke-width="2" stroke-linejoin="round" points="575.5,1528.5 608.5,1499.7 600.5,1499.2 600,1489.6 670.4,1465.1 678.4,1490.7 681.1,1501.3 657.6,1500.8 611.2,1540.3 576,1539.7"/>
<polygon fill="#ff26ff" points="575.5,1528.5 622.9,1490.1 600,1489.6 670.4,1465.1 678.4,1490.7 656.5,1492.3 610.1,1530.7"/>
<polygon fill="#2b0a2b" points="610.7,1530.7 656.5,1493.3 657.1,1501.3 611.2,1538.2"/>
<polygon fill="#ff44ff" stroke="#ff33ff" stroke-width="2" stroke-linejoin="round" points="887,1536.5 920,1507.7 912,1507.2 911.5,1497.6 981.9,1473.1 989.9,1498.7 992.6,1509.3 969.1,1508.8 922.7,1548.3 887.5,1547.7"/>
<polygon fill="#ff26ff" points="887,1536.5 934.4,1498.1 911.5,1497.6 981.9,1473.1 989.9,1498.7 968,1500.3 921.6,1538.7"/>
<polygon fill="#2b0a2b" points="922.2,1538.7 968,1501.3 968.6,1509.3 922.7,1546.2"/>
<polygon fill="#ff22ff" stroke="#ff22ff" stroke-width="2.2" stroke-linejoin="round" points="1286.9,1479 1317.8,1479.5 1318.9,1488 1275.1,1525.4 1282.6,1527 1283.7,1535.5 1219.7,1558.4 1209,1524.8 1230.9,1524.8"/>
<polygon fill="#2b0a2b" points="1317.8,1480.7 1318.9,1488 1275.1,1525.4 1263.7,1524.5"/>
<polygon fill="#7a1f7a" points="1282.6,1528 1283.7,1535.5 1219.7,1558.4 1218.6,1548.8"/>
<polygon fill="#ff33ff" points="1286.9,1479 1317.8,1479.5 1260.7,1525.9 1282.6,1527 1218.6,1547.8 1209,1524.8 1230.9,1524.8"/>
<text x="277.7" y="1139" font-size="48">(1)</text>
<text x="576.7" y="1142.7" font-size="48">(2)</text>
<text x="899.7" y="1141.7" font-size="48">(3)</text>
<text x="1218.7" y="1142.9" font-size="48">(4)</text>
<text x="39.4" y="1233.2" font-size="40">Fe<tspan font-size="26" dy="10.4">90</tspan><tspan dy="-10.4">Co</tspan><tspan font-size="26" dy="10.4" dx="1">10</tspan><tspan dy="-10.4" dx="2.5">(C)</tspan></text>
<text x="39.4" y="1322" font-size="40">Fe<tspan font-size="26" dy="10.4">90</tspan><tspan dy="-10.4">Co</tspan><tspan font-size="26" dy="10.4" dx="1">10</tspan><tspan dy="-10.4" dx="2.5">(B)</tspan></text>
<text x="40.6" y="1416.4" font-size="40">Fe<tspan font-size="26" dy="10.4">90</tspan><tspan dy="-10.4">Co</tspan><tspan font-size="26" dy="10.4" dx="1">10</tspan><tspan dy="-10.4" dx="2.5">(A)</tspan></text>
<text transform="translate(22.4 1510) scale(0.982 1)" font-size="40">Applied</text>
<text transform="translate(163.8 1510) scale(0.95 1)" font-size="40">field</text>
</svg></body></html>
